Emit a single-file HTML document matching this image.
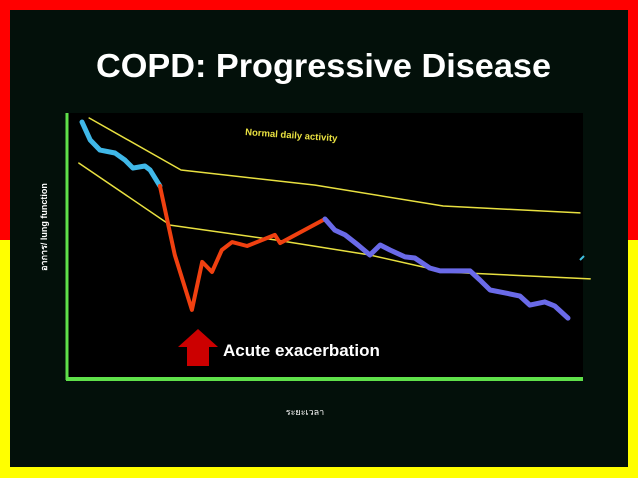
<!DOCTYPE html>
<html><head><meta charset="utf-8"><style>
html,body{margin:0;padding:0}
body{width:638px;height:478px;overflow:hidden;background:linear-gradient(#f00 0,#f00 240px,#ff0 240px);position:relative;font-family:"Liberation Sans","Noto Sans CJK SC",sans-serif}
#panel{position:absolute;left:10px;top:10px;width:618px;height:457px;background:#03100a}
</style></head><body>
<div id="panel"></div>
<svg width="638" height="478" style="position:absolute;left:0;top:0">
<text x="96" y="77" textLength="455" lengthAdjust="spacingAndGlyphs" fill="#fff" font-size="33" font-weight="bold" font-family="Liberation Sans, sans-serif">COPD: Progressive Disease</text>
<rect x="68" y="113" width="515" height="265" fill="#000"/>
<line x1="67" y1="113" x2="67" y2="380" stroke="#5fe04a" stroke-width="3"/>
<line x1="66" y1="379" x2="583" y2="379" stroke="#5fe04a" stroke-width="4"/>
<g id="series"></g>
<text x="245" y="135" fill="#e8e040" font-size="9.5" font-weight="bold" transform="rotate(4 245 135)">Normal daily activity</text>
<text transform="translate(47 227) rotate(-90)" text-anchor="middle" fill="#fff" font-size="9" font-weight="bold">อาการ/ lung function</text>
<text x="305" y="415" text-anchor="middle" fill="#fff" font-size="9">ระยะเวลา</text>
<polygon points="178,347 198,329 218,347 209,347 209,366 187,366 187,347" fill="#cc0000"/>
<text x="223" y="356" fill="#fff" font-size="17" font-weight="bold">Acute exacerbation</text>
<line x1="580" y1="260" x2="584" y2="256" stroke="#40c0e0" stroke-width="2"/>
</svg>
<script>
const upperX=[4.3,22.1,48.1,72.9,99.4];
const upperY=[98.1,78.5,72.8,64.9,62.3];
const lowerX=[2.3,20,40.3,58.7,73.3,101.4];
const lowerY=[81.1,57.7,52.1,46.4,40,37.4];
const blueX=[2.9,4.5,6.4,9.3,11.2,12.8,15.1,16.1,18];
const blueY=[96.6,89.8,86,84.9,82.3,79.2,80,78.5,72.5];
const redX=[18,20.9,24.2,26.2,28.1,30,32,34.9,40.3,41.3,50];
const redY=[72.5,46.4,25.7,43.8,40,48.3,51.3,49.8,54,50.9,60];
const purpleX=[50,51.9,53.9,56.4,58.7,60.7,62.6,65.5,67.4,70.3,72.3,78.1,80,82,84.9,87.8,89.7,92.6,94.5,97.1];
const purpleY=[60,55.8,54,50.2,46.4,50.2,48.3,45.7,45.3,41.5,40.4,40.4,37,33.2,32.1,30.9,27.5,28.7,27.2,22.6];
function sx(v){return 67+v*5.16;}
function sy(v){return 378-v*2.65;}
const g=document.getElementById('series');
function line(xs,ys,color,w,name){
  const p=document.createElementNS('http://www.w3.org/2000/svg','polyline');
  p.setAttribute('points',xs.map((x,i)=>sx(x).toFixed(1)+','+sy(ys[i]).toFixed(1)).join(' '));
  p.setAttribute('fill','none');p.setAttribute('stroke',color);p.setAttribute('stroke-width',w);
  p.setAttribute('stroke-linejoin','round');p.setAttribute('stroke-linecap','round');
  
  
  g.appendChild(p);
}
line(upperX,upperY,'#e8e040',1.5,'upper-normal-line');
line(lowerX,lowerY,'#e8e040',1.5,'lower-normal-line');
line(blueX,blueY,'#40b8e8',5,'pre-exacerbation-line');
line(redX,redY,'#f04010',4,'exacerbation-line');
line(purpleX,purpleY,'#6a6ae8',5,'post-exacerbation-line');
</script>
</body></html>
